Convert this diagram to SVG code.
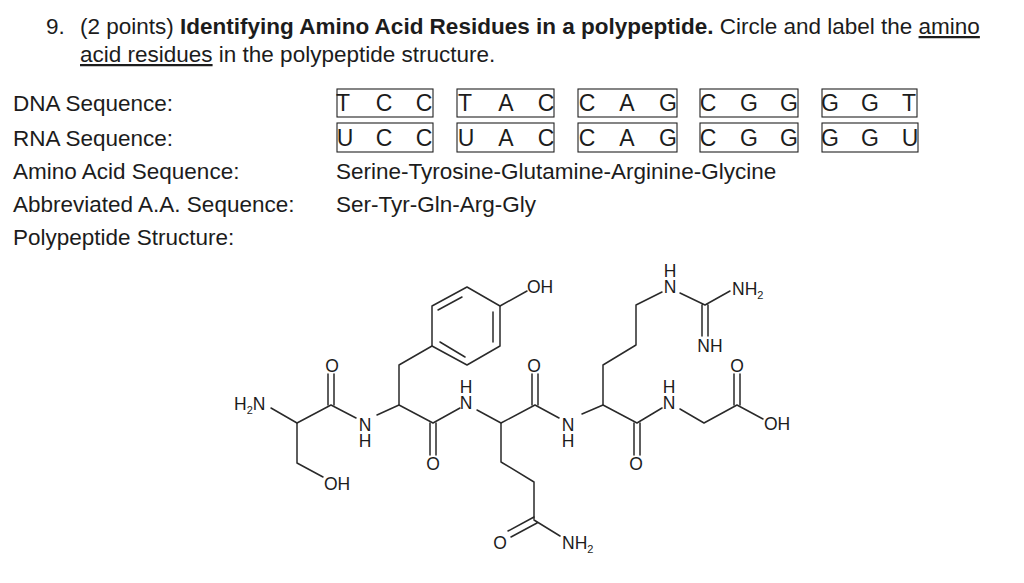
<svg xmlns="http://www.w3.org/2000/svg" width="1024" height="583" viewBox="0 0 1024 583">
<style>
text{font-family:"Liberation Sans",Arial,sans-serif;fill:#1c1c1c}
.t{font-size:22.5px}
.l{font-size:23px;text-anchor:middle}
.a{font-size:17.5px;text-anchor:middle}
.f{font-size:17.5px}
.s{font-size:11px}
.b{fill:none;stroke:#222;stroke-width:1.1}
.m{fill:none;stroke:#2a2a2a;stroke-width:1.5;stroke-linecap:round;stroke-linejoin:round}
</style>
<rect width="1024" height="583" fill="#fff"/>
<g id="question">
<text class="t" x="46" y="34">9.</text>
<text class="t" x="80" y="34">(2 points) <tspan font-weight="700">Identifying Amino Acid Residues in a polypeptide.</tspan> Circle and label the <tspan text-decoration="underline">amino</tspan></text>
<text class="t" x="80" y="62"><tspan text-decoration="underline">acid residues</tspan> in the polypeptide structure.</text>
</g>
<g id="row-labels">
<text class="t" x="13" y="111">DNA Sequence:</text>
<text class="t" x="13" y="146">RNA Sequence:</text>
<text class="t" x="13" y="179">Amino Acid Sequence:</text>
<text class="t" x="13" y="212">Abbreviated A.A. Sequence:</text>
<text class="t" x="13" y="245">Polypeptide Structure:</text>
<text class="t" x="336" y="179">Serine-Tyrosine-Glutamine-Arginine-Glycine</text>
<text class="t" x="336" y="212">Ser-Tyr-Gln-Arg-Gly</text>
</g>
<g id="codon-1-dna"><rect class="b" x="337" y="89" width="96" height="28"/><text class="l" x="343" y="111">T</text><text class="l" x="384" y="111">C</text><text class="l" x="424" y="111">C</text></g>
<g id="codon-2-dna"><rect class="b" x="457" y="89" width="97" height="28"/><text class="l" x="465" y="111">T</text><text class="l" x="506" y="111">A</text><text class="l" x="546" y="111">C</text></g>
<g id="codon-3-dna"><rect class="b" x="578" y="89" width="99" height="28"/><text class="l" x="587" y="111">C</text><text class="l" x="627" y="111">A</text><text class="l" x="668" y="111">G</text></g>
<g id="codon-4-dna"><rect class="b" x="700" y="89" width="98" height="28"/><text class="l" x="708" y="111">C</text><text class="l" x="749" y="111">G</text><text class="l" x="789" y="111">G</text></g>
<g id="codon-5-dna"><rect class="b" x="822" y="89" width="95" height="28"/><text class="l" x="830" y="111">G</text><text class="l" x="870" y="111">G</text><text class="l" x="909" y="111">T</text></g>
<g id="codon-1-rna"><rect class="b" x="337" y="123" width="96" height="29"/><text class="l" x="345" y="146">U</text><text class="l" x="384" y="146">C</text><text class="l" x="424" y="146">C</text></g>
<g id="codon-2-rna"><rect class="b" x="457" y="123" width="97" height="29"/><text class="l" x="466" y="146">U</text><text class="l" x="506" y="146">A</text><text class="l" x="546" y="146">C</text></g>
<g id="codon-3-rna"><rect class="b" x="578" y="123" width="99" height="29"/><text class="l" x="587" y="146">C</text><text class="l" x="627" y="146">A</text><text class="l" x="668" y="146">G</text></g>
<g id="codon-4-rna"><rect class="b" x="700" y="123" width="98" height="29"/><text class="l" x="708" y="146">C</text><text class="l" x="749" y="146">G</text><text class="l" x="789" y="146">G</text></g>
<g id="codon-5-rna"><rect class="b" x="822" y="123" width="96" height="29"/><text class="l" x="830" y="146">G</text><text class="l" x="870" y="146">G</text><text class="l" x="910" y="146">U</text></g>
<g id="bonds" class="m">
<path d="M271 408L297 423L331 405L356 418M377 415L399 405L433 423L460 408M477 410L501 423L535 405L559 418M582 414L603 405L637 423L662 408M680 409L704 423L737 405L763 419"/>
<path d="M297 423V463L323 477"/>
<path d="M399 405V365L432 346"/>
<path d="M432 346V306L467 287L500 306V346L467 365Z"/>
<path d="M440 342L465 357M438 310L462 297M493 312V342"/>
<path d="M500 306L527 291"/>
<path d="M501 423V462L534 482V519"/>
<path d="M534 520L560 536M534 517L508 531M537 523L511 537"/>
<path d="M603 405V365L636 345V305L662 292M680 293L705 305L730 291M702 305V336M708 305V336"/>
<path d="M328 405V374M334 405V374M532 405V374M538 405V374M734 405V374M740 405V374"/>
<path d="M430 423V455M436 423V455M634 423V455M640 423V455"/>
</g>
<g id="atoms">
<text class="a" x="332" y="372">O</text><text class="a" x="534" y="372">O</text><text class="a" x="737" y="372">O</text>
<text class="a" x="433" y="470">O</text><text class="a" x="636" y="470">O</text><text class="a" x="500" y="549">O</text>
<text class="a"><tspan x="365" y="431">N</tspan><tspan x="365" y="447">H</tspan></text>
<text class="a"><tspan x="568" y="431">N</tspan><tspan x="568" y="447">H</tspan></text>
<text class="a"><tspan x="466" y="393">H</tspan><tspan x="466" y="409">N</tspan></text>
<text class="a"><tspan x="669" y="393">H</tspan><tspan x="669" y="409">N</tspan></text>
<text class="a"><tspan x="670" y="277">H</tspan><tspan x="670" y="293">N</tspan></text>
<text class="a" x="710" y="352">NH</text>
<text class="a" x="337" y="490">OH</text>
<text class="a" x="777" y="430">OH</text>
<text class="a" x="540" y="293">OH</text>
<text class="f" x="234" y="410">H<tspan class="s" dy="4">2</tspan><tspan dy="-4">N</tspan></text>
<text class="f" x="732" y="295">NH<tspan class="s" dy="4">2</tspan></text>
<text class="f" x="562" y="549">NH<tspan class="s" dy="4">2</tspan></text>
</g>
</svg>
